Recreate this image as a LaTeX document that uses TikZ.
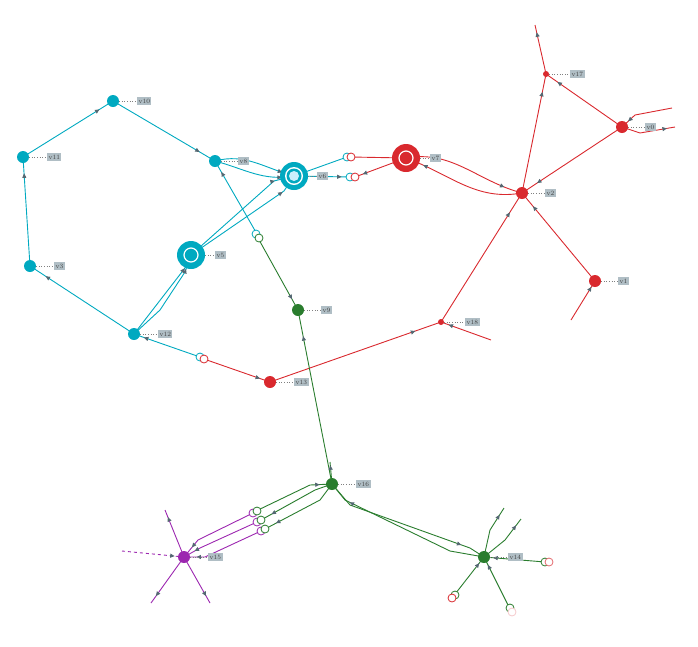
\documentclass[tikz,border=0pt]{standalone}
\usetikzlibrary{decorations.markings,arrows.meta,calc}
\definecolor{cy}{HTML}{00A9C0}
\definecolor{rd}{HTML}{D9292E}
\definecolor{gr}{HTML}{2A7D2E}
\definecolor{pu}{HTML}{9C27B0}
\definecolor{ah}{HTML}{546872}
\definecolor{lb}{HTML}{B0BEC5}
\tikzset{
 nd/.style={circle,inner sep=0pt,minimum size=12pt},
 sm/.style={circle,inner sep=0pt,minimum size=6pt},
 lab/.style={fill=lb,font=\fontsize{6.5}{6.5}\selectfont,text=black!75,inner sep=1.5pt},
 lk/.style={dotted,gray,line width=0.6pt},
 ed/.style={line width=0.9pt,postaction={decorate},decoration={markings,mark=at position 0.85 with {\arrow[ah]{Triangle[length=4.5pt,width=4pt]}}}},
 ho/.style={circle,fill=white,line width=0.8pt,inner sep=0pt,minimum size=8pt},
}
\begin{document}
\begin{tikzpicture}[x=1pt,y=-1pt]
\useasboundingbox (0,0) rectangle (698,646);
\coordinate (v10) at (113,101); \coordinate (v11) at (23,157); \coordinate (v3) at (30,266);
\coordinate (v12) at (134,334); \coordinate (v8) at (215,161); \coordinate (v6) at (294,176);
\coordinate (v5) at (191,255); \coordinate (v7) at (406,158); \coordinate (v2) at (522,193);
\coordinate (v17) at (546,74); \coordinate (v0) at (622,127); \coordinate (v1) at (595,281);
\coordinate (v18) at (441,322); \coordinate (v13) at (270,382); \coordinate (v9) at (298,310);
\coordinate (v16) at (332,484); \coordinate (v14) at (484,557); \coordinate (v15) at (184,557);
\coordinate (e17) at (535,25); \coordinate (e0a) at (672,108); \coordinate (e0b) at (675,127);
\coordinate (e1) at (571,320); \coordinate (e18) at (491,340); \coordinate (e16) at (330,462);
\coordinate (e14a) at (504,508); \coordinate (e14b) at (521,519);
\coordinate (p1) at (165,510); \coordinate (p2) at (210,603); \coordinate (p3) at (151,603); \coordinate (p4) at (122,551);
% cyan edges
\draw[ed,cy] (v11) -- (v10);
\draw[ed,cy] (v3) -- (v11);
\draw[ed,cy] (v12) -- (v3);
\draw[ed,cy] (v10) -- (v8);
\draw[ed,cy] (v8) to[out=15,in=165] (v6);
\draw[ed,cy] (v8) to[out=-15,in=-170] (v6);
\draw[ed,cy] (v5) -- ($(v6)+(-20,5)$) -- (v6);
\draw[ed,cy] (v5) -- ($(v6)+(-10,15)$) -- (v6);
\draw[ed,cy] (v12) -- (185,268) -- (v5);
\draw[ed,cy] (v12) -- (160,310) -- (185,272) -- (v5);
\draw[ed,cy] (257,234) -- (v8);
\draw[ed,cy] (200,357) -- (v12);
\draw[ed,cy] (347,157) -- (v6);
\draw[ed,cy] (v6) -- (350,177);
% red
\draw[ed,rd] (351,157) -- (v7);
\draw[ed,rd] (v7) -- (355,177);
\draw[ed,rd] (v7) to[out=10,in=165] (v2);
\draw[ed,rd] (v2) to[out=-170,in=-20] (v7);
\draw[ed,rd] (v2) -- (v17);
\draw[ed,rd] (v17) -- (e17);
\draw[ed,rd] (v0) -- (v17);
\draw[ed,rd] (e0a) -- (635,115) -- (v0);
\draw[ed,rd] (v0) -- (640,133) -- (e0b);
\draw[ed,rd] (v0) -- (v2);
\draw[ed,rd] (v1) -- (v2);
\draw[ed,rd] (e1) -- (v1);
\draw[ed,rd] (v18) -- (v2);
\draw[ed,rd] (e18) -- (v18);
\draw[ed,rd] (v13) -- (v18);
\draw[ed,rd] (204,359) -- (v13);
% green
\draw[ed,gr] (258,238) -- (v9);
\draw[ed,gr] (v16) -- (v9);
\draw[ed,gr] (v16) -- (e16);
\draw[ed,gr] (256,511) -- (310,485) -- (v16);
\draw[ed,gr] (v16) -- (315,490) -- (261,520);
\draw[ed,gr] (v16) -- (320,500) -- (265,529);
\draw[ed,gr] (v16) -- (350,505) -- (470,548) -- (v14);
\draw[ed,gr] (v14) -- (450,551) -- (345,500) -- (v16);
\draw[ed,gr] (v14) -- (490,530) -- (e14a);
\draw[ed,gr] (v14) -- (505,540) -- (e14b);
\draw[ed,gr] (545,562) -- (v14);
\draw[ed,gr] (452,598) -- (v14);
\draw[ed,gr] (510,609) -- (v14);
% purple
\draw[ed,pu] (253,513) -- (198,540) -- (v15);
\draw[ed,pu] (257,522) -- (200,548) -- (v15);
\draw[ed,pu] (261,531) -- (205,557) -- (v15);
\draw[ed,pu] (v15) -- (p1);
\draw[ed,pu] (v15) -- (p2);
\draw[ed,pu] (v15) -- (p3);
\draw[ed,pu,dashed] (p4) -- (v15);
% hollow end markers
\node[ho,draw=cy] (h1) at (256,234) {}; \node[ho,draw=gr] (h2) at (259,238) {};
\node[ho,draw=cy] (h3) at (200,357) {}; \node[ho,draw=rd] (h4) at (204,359) {};
\node[ho,draw=cy] (h5) at (347,157) {}; \node[ho,draw=rd] (h6) at (351,157) {};
\node[ho,draw=cy] (h7) at (350,177) {}; \node[ho,draw=rd] (h8) at (355,177) {};
\node[ho,draw=pu] (h9) at (253,513) {}; \node[ho,draw=gr] (h10) at (257,511) {};
\node[ho,draw=pu] (h11) at (257,522) {}; \node[ho,draw=gr] (h12) at (261,520) {};
\node[ho,draw=pu] (h13) at (261,531) {}; \node[ho,draw=gr] (h14) at (265,529) {};
\node[ho,draw=gr] (h15) at (545,562) {}; \node[ho,draw=rd!70] (h16) at (549,562) {};
\node[ho,draw=gr] (h17) at (455,595) {}; \node[ho,draw=rd] (h18) at (452,598) {};
\node[ho,draw=gr] (h19) at (510,608) {}; \node[ho,draw=rd!25] (h20) at (512,612) {};
% node discs
\foreach \n/\c in {v10/cy,v11/cy,v3/cy,v12/cy,v8/cy,v2/rd,v0/rd,v1/rd,v13/rd,v9/gr,v16/gr,v14/gr,v15/pu}
  \node[nd,fill=\c] (n\n) at (\n) {};
\node[sm,fill=rd] (nv17) at (v17) {};
\node[sm,fill=rd] (nv18) at (v18) {};
\node[circle,fill=cy,minimum size=28pt,inner sep=0pt] (nv6) at (v6) {};
\node[circle,fill=white,minimum size=18pt,inner sep=0pt] at (v6) {};
\node[circle,fill=cy,minimum size=15pt,inner sep=0pt] at (v6) {};
\node[circle,fill=cyan!20,minimum size=10pt,inner sep=0pt] at (v6) {};
\node[circle,fill=cy,minimum size=28pt,inner sep=0pt] (nv5) at (v5) {};
\node[circle,draw=white,line width=1.2pt,fill=cy,minimum size=14pt,inner sep=0pt] at (v5) {};
\node[circle,fill=rd,minimum size=28pt,inner sep=0pt] (nv7) at (v7) {};
\node[circle,draw=white,line width=1.2pt,fill=rd,minimum size=14pt,inner sep=0pt] at (v7) {};
% labels
\foreach \n/\dx in {v10/24,v11/24,v3/24,v12/24,v8/23,v6/23,v5/24,v7/24,
  v2/23,v17/24,v0/23,v1/23,v18/24,v13/24,v9/23,v16/24,v14/24,v15/24}{
  \node[lab,anchor=west] (l\n) at ($(\n)+(\dx,0)$) {\n};
  \draw[lk] (n\n.east) -- (l\n.west);
}
\end{tikzpicture}
\end{document}
